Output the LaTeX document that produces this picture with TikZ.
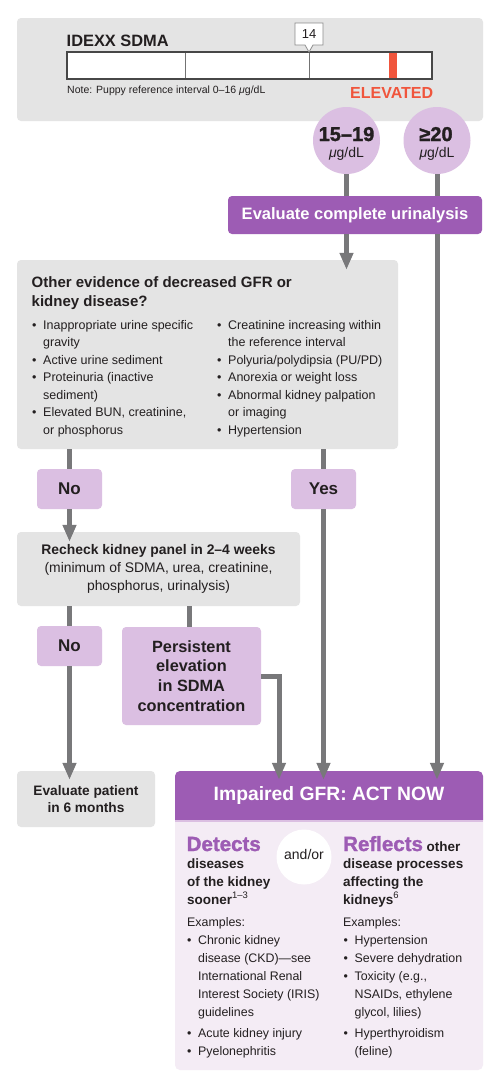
\documentclass[tikz,border=0pt]{standalone}
\usepackage{fontspec}
\setmainfont{Liberation Sans}
\newfontfamily\heavyfont{Liberation Sans Bold}[FakeBold=1.5]
\usetikzlibrary{arrows.meta}
\definecolor{gbox}{HTML}{E4E4E4}
\definecolor{gline}{HTML}{78787A}
\definecolor{pdark}{HTML}{9D5CB4}
\definecolor{plight}{HTML}{DBBFE2}
\definecolor{plav}{HTML}{F4ECF5}
\definecolor{sred}{HTML}{F0553C}
\definecolor{ink}{HTML}{231F20}
\newcommand{\fs}[2]{\fontsize{#1}{#2}\selectfont}
\begin{document}
\begin{tikzpicture}[x=1pt,y=-1pt,
  every node/.style={text=ink},
  gbx/.style={rectangle, rounded corners=4pt, inner sep=0pt, fill=gbox},
  lbx/.style={rectangle, rounded corners=4pt, inner sep=0pt, fill=plight},
  conn/.style={draw=gline, line width=5pt, line join=miter},
  arr/.style={conn, -{Triangle[width=13pt,length=17pt]}},
  txt/.style={inner sep=0pt, anchor=base west}]
\useasboundingbox (0,0) rectangle (500,1090);
\fill[white] (0,0) rectangle (500,1090);

% top panel
\node[gbx, minimum width=466pt, minimum height=103pt] (top) at (250,69.5) {};
\node[txt, font=\bfseries\fs{16.4}{19}] (ttl) at (66.5,46) {IDEXX SDMA};
\node[draw=black!72, line width=1.3pt, fill=white, minimum width=365pt, minimum height=27pt, inner sep=0pt] (bar) at (249.5,65.5) {};
\fill[sred] (389,52.6) rectangle (397,78.4);
\draw[black!55, line width=1pt] (185,52.6) -- (185,78.4) (309,52.6) -- (309,78.4);
\draw[black!45, line width=0.8pt, fill=white] (295,23) -- (323,23) -- (323,45) -- (313,45) -- (309,52) -- (305,45) -- (295,45) -- cycle;
\node[inner sep=0pt, font=\fs{13}{15}] (fourteen) at (309,34.5) {14};
\node[txt, font=\fs{10.5}{12}] (note) at (67,93) {Note: Puppy reference interval 0–16 \textit{μ}g/dL};
\node[txt, font=\bfseries\fs{16}{19}, text=sred] (elev) at (350,98) {ELEVATED};

% circles
\node[circle, fill=plight, minimum size=67pt, inner sep=0pt] (c1) at (346.5,140.5) {};
\node[circle, fill=plight, minimum size=67pt, inner sep=0pt] (c2) at (437,140.5) {};
\node[inner sep=0pt, anchor=base, font=\heavyfont\fs{20}{22}] (c1a) at (346.5,141) {15–19};
\node[inner sep=0pt, anchor=base, font=\fs{14}{16}] (c1b) at (346.5,157) {\textit{μ}g/dL};
\node[inner sep=0pt, anchor=base, font=\heavyfont\fs{20}{22}] (c2a) at (436,141) {≥20};
\node[inner sep=0pt, anchor=base, font=\fs{14}{16}] (c2b) at (437,157) {\textit{μ}g/dL};

% urinalysis
\node[rectangle, rounded corners=4pt, inner sep=0pt, fill=pdark, minimum width=254pt, minimum height=38pt, text=white, font=\bfseries\fs{16.5}{20}] (ua) at (355,215) {Evaluate complete urinalysis};

% other evidence box
\node[gbx, minimum width=381pt, minimum height=189pt] (oth) at (207.5,354.5) {};
\node[txt, font=\bfseries\fs{15}{19.3}] (othttl) at (31.5,287) {\begin{tabular}[t]{@{}l@{}}Other evidence of decreased GFR or\\kidney disease?\end{tabular}};
\node[txt, font=\fs{12.5}{17.5}] (othl) at (32,329) {\begin{tabular}[t]{@{}l@{\hspace{6.6pt}}l@{}}
•&Inappropriate urine specific\\ &gravity\\
•&Active urine sediment\\
•&Proteinuria (inactive\\ &sediment)\\
•&Elevated BUN, creatinine,\\ &or phosphorus\end{tabular}};
\node[txt, font=\fs{12.5}{17.5}] (othr) at (217,329) {\begin{tabular}[t]{@{}l@{\hspace{6.6pt}}l@{}}
•&Creatinine increasing within\\ &the reference interval\\
•&Polyuria/polydipsia (PU/PD)\\
•&Anorexia or weight loss\\
•&Abnormal kidney palpation\\ &or imaging\\
•&Hypertension\end{tabular}};

% decision boxes
\node[lbx, minimum width=65pt, minimum height=40pt, font=\bfseries\fs{17}{20}] (no1) at (69.5,489) {No};
\node[lbx, minimum width=65pt, minimum height=40pt, font=\bfseries\fs{17}{20}] (yes) at (323.5,489) {Yes};
\node[gbx, minimum width=283pt, minimum height=74pt, align=center, font=\fs{13.9}{18}] (rc) at (158.5,569) {\textbf{Recheck kidney panel in 2–4 weeks}\\(minimum of SDMA, urea, creatinine,\\phosphorus, urinalysis)};
\node[lbx, minimum width=65pt, minimum height=40pt, font=\bfseries\fs{17}{20}] (no2) at (69.5,646) {No};
\node[lbx, minimum width=139pt, minimum height=98pt, align=center, font=\bfseries\fs{16.3}{19.7}] (pers) at (191.5,676) {Persistent\\elevation\\in SDMA\\concentration};
\node[gbx, minimum width=138pt, minimum height=56pt, align=center, font=\bfseries\fs{13.7}{17}] (ev) at (86,799) {Evaluate patient\\in 6 months};

% impaired GFR panel
\fill[plav] (175,815) -- (483,815) [rounded corners=5pt] -- (483,1070) -- (175,1070) [sharp corners] -- cycle;
\fill[pdark] (175,820) [rounded corners=5pt] -- (175,771) -- (483,771) [sharp corners] -- (483,820) -- cycle;
\fill[plight] (175,820) rectangle (483,821.5);
\node[inner sep=0pt, minimum width=308pt, minimum height=49pt, text=white, font=\bfseries\fs{19.3}{22}] (imp) at (329,795.5) {Impaired GFR: ACT NOW};

\node[circle, fill=white, minimum size=55pt, inner sep=0pt] (andor) at (304,857) {};
\node[inner sep=0pt, anchor=base, font=\fs{14}{16}] (andortxt) at (304,859) {and/or};

\node[txt, font=\heavyfont\fs{20.5}{22}, text=pdark] (det) at (186.5,851) {Detects};
\node[txt, font=\bfseries\fs{13.5}{18}] (detsub) at (187,868) {\begin{tabular}[t]{@{}l@{}}diseases\\of the kidney\\sooner\textsuperscript{\mdseries 1–3}\end{tabular}};
\node[txt, font=\fs{12.4}{18}] (exl) at (187,926) {Examples:};
\node[txt, font=\fs{12.4}{18}] (lstl) at (187,944) {\begin{tabular}[t]{@{}l@{\hspace{6.6pt}}l@{}}
•&Chronic kidney\\ &disease (CKD)—see\\ &International Renal\\ &Interest Society (IRIS)\\ &guidelines\\[3pt]
•&Acute kidney injury\\
•&Pyelonephritis\end{tabular}};

\node[txt, font=\bfseries\fs{13.5}{18}] (ref) at (343,851) {{\heavyfont\fs{20.5}{22}\color{pdark}Reflects} other};
\node[txt, font=\bfseries\fs{13.5}{18}] (refsub) at (343,868) {\begin{tabular}[t]{@{}l@{}}disease processes\\affecting the\\kidneys\textsuperscript{\mdseries 6}\end{tabular}};
\node[txt, font=\fs{12.4}{18}] (exr) at (343,926) {Examples:};
\node[txt, font=\fs{12.4}{18}] (lstr) at (343.5,944) {\begin{tabular}[t]{@{}l@{\hspace{6.6pt}}l@{}}
•&Hypertension\\
•&Severe dehydration\\
•&Toxicity (e.g.,\\ &NSAIDs, ethylene\\ &glycol, lilies)\\[3pt]
•&Hyperthyroidism\\ &(feline)\end{tabular}};

% connectors
\coordinate (px) at (189,0);
\coordinate (qx) at (279,0);
\draw[conn] (c1.south) -- (c1.south |- ua.north);
\draw[arr] (c1.south |- ua.south) -- ([yshift=-10pt]c1.south |- oth.north);
\draw[conn] (c2.south) -- (c2.south |- ua.north);
\draw[arr] (c2.south |- ua.south) -- ([yshift=-9pt]c2.south |- imp.north);
\draw[conn] (no1.north |- oth.south) -- (no1.north);
\draw[arr] (no1.south) -- ([yshift=-10pt]no1.south |- rc.north);
\draw[conn] (yes.north |- oth.south) -- (yes.north);
\draw[arr] (yes.south) -- ([yshift=-9pt]yes.south |- imp.north);
\draw[conn] (no2.north |- rc.south) -- (no2.north);
\draw[arr] (no2.south) -- ([yshift=-9pt]no2.south |- ev.north);
\draw[conn] (px |- rc.south) -- (px |- pers.north);
\coordinate (pt) at ([yshift=-9pt]qx |- imp.north);
\draw[arr] (pers.east) -| (pt);
\end{tikzpicture}
\end{document}
